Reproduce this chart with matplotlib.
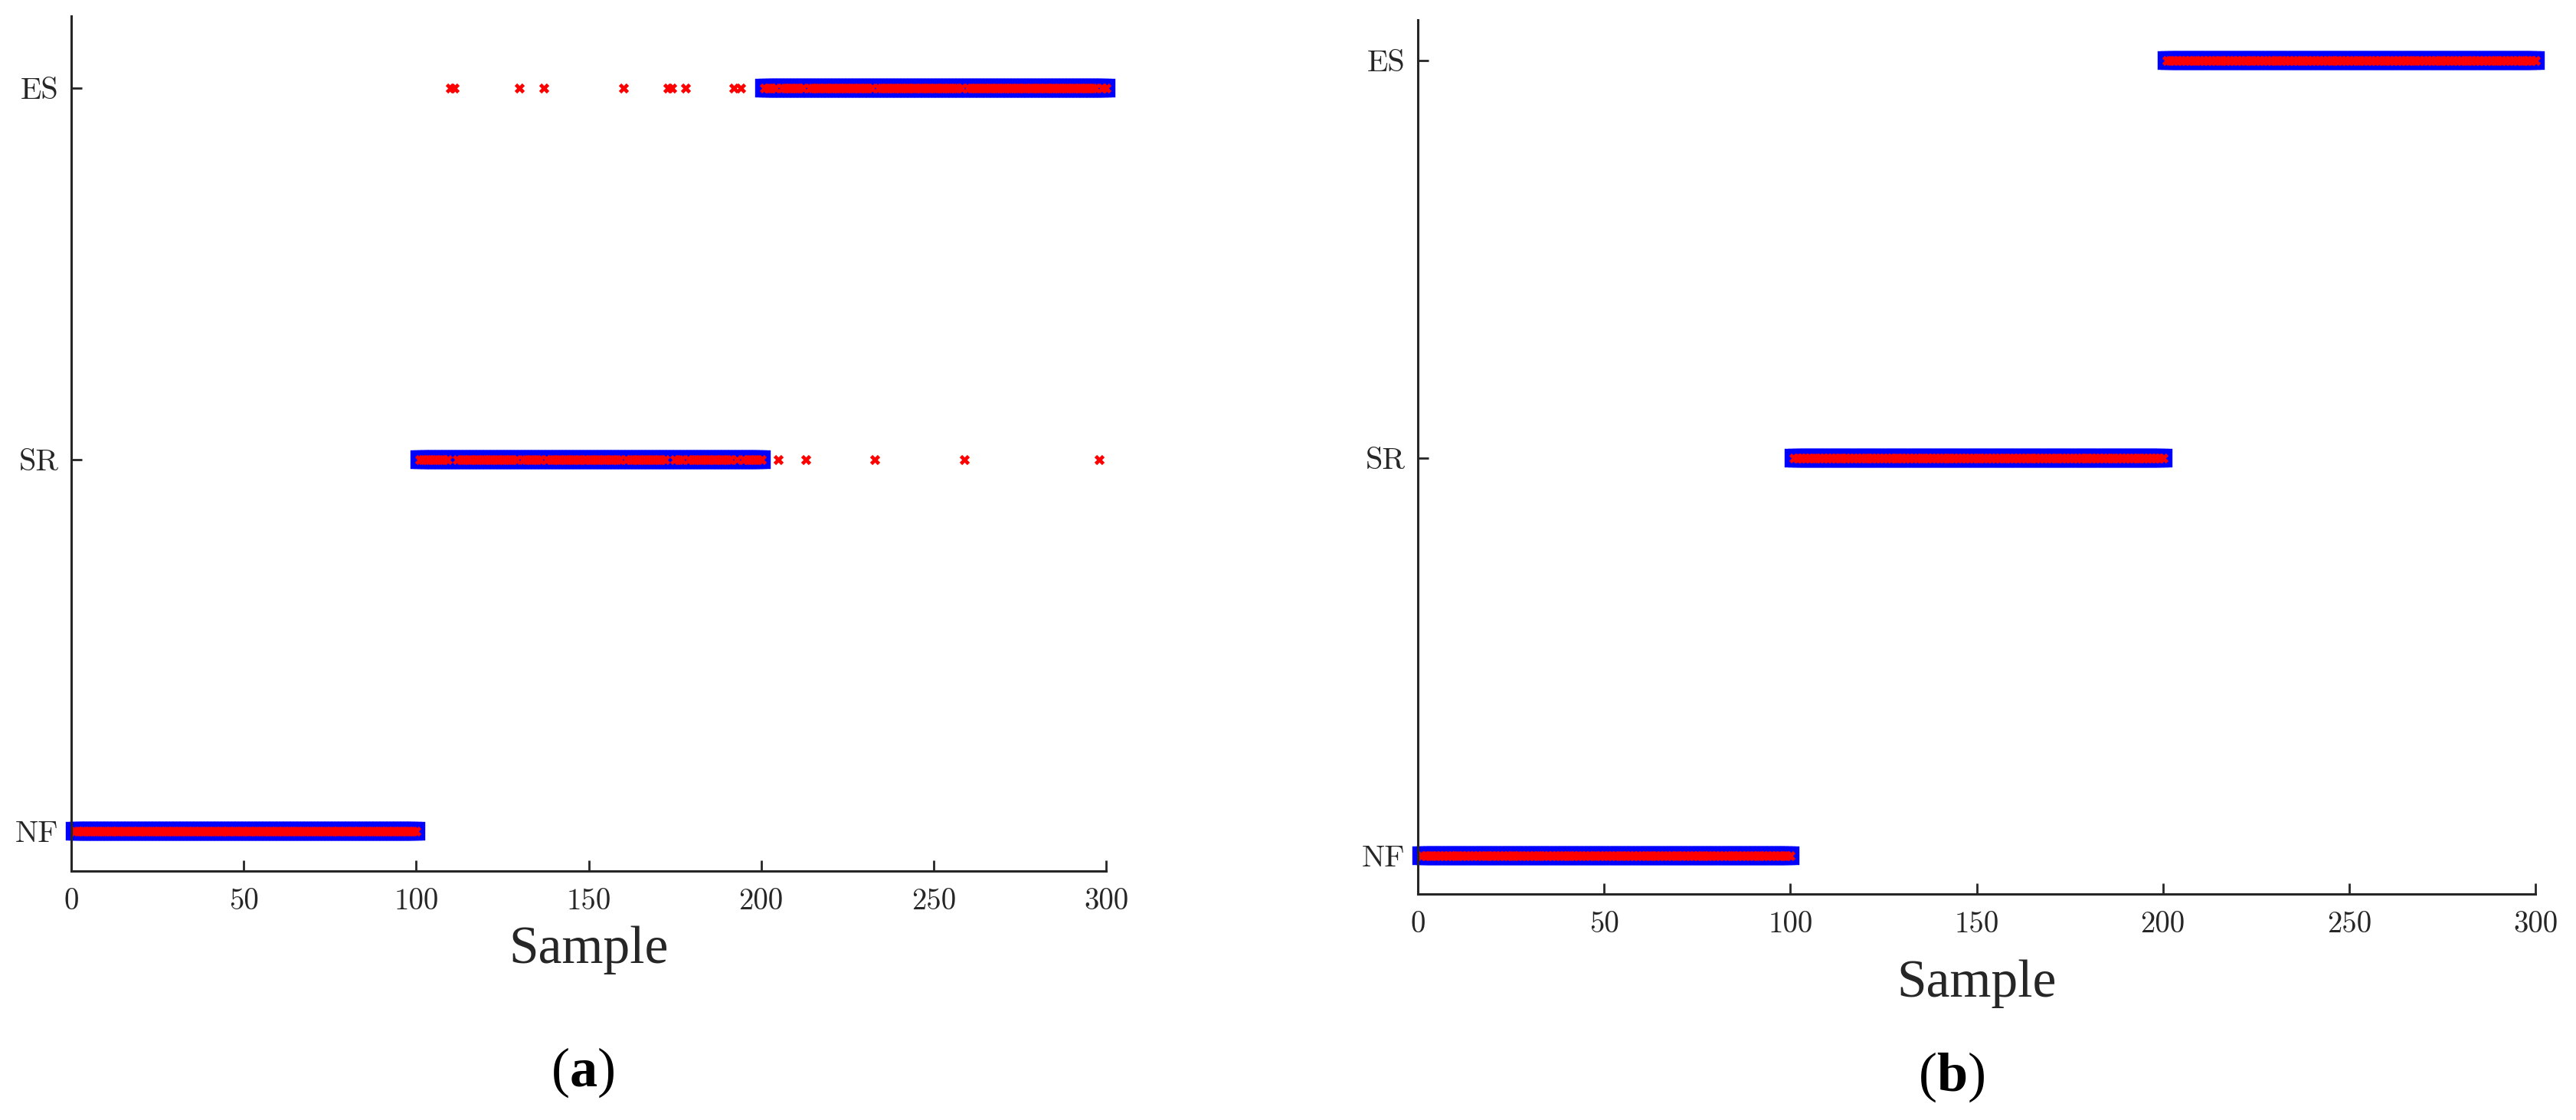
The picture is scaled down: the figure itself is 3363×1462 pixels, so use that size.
import numpy as np
import matplotlib
matplotlib.use('Agg')
import matplotlib.pyplot as plt

plt.rcParams.update({
    'mathtext.fontset': 'custom',
    'mathtext.rm': 'Liberation Serif',
    'mathtext.bf': 'Liberation Serif:bold',
    'axes.edgecolor': '#262626',
    'xtick.color': '#262626',
    'ytick.color': '#262626',
})

# ===================== DATA =====================
class_names = ['NF', 'SR', 'ES']
class_codes = [1, 2, 3]
samples_per_class = [100, 100, 100]

# panel (a): samples whose predicted class differs from the true one
a_sr_pred_es = [110, 111, 130, 137, 160, 173, 174, 178, 192, 194]
a_es_pred_sr = [205, 213, 233, 259, 298]

sample = np.arange(1, sum(samples_per_class) + 1)
true_label = np.repeat(class_codes, samples_per_class)

pred_a = true_label.copy()
pred_a[np.array(a_sr_pred_es) - 1] = 3
pred_a[np.array(a_es_pred_sr) - 1] = 2
pred_b = true_label.copy()

BLUE = '#0000FF'
RED = '#FF0000'
TXT = '#262626'


def draw(ax, pred, ylim, labelpad):
    ax.plot(sample, true_label, 's', ms=6.8, mfc='none', mec=BLUE, mew=2.3, clip_on=False)
    ax.plot(sample, pred, 'x', ms=3.6, mec=RED, mew=1.7, clip_on=False)
    ax.set_xlim(0, 300)
    ax.set_ylim(*ylim)
    ax.set_xticks(np.arange(0, 301, 50))
    ax.set_yticks(class_codes)
    ax.set_yticklabels(class_names)
    for s in ['top', 'right']:
        ax.spines[s].set_visible(False)
    for s in ['left', 'bottom']:
        ax.spines[s].set_linewidth(1.1)
    ax.tick_params(direction='in', length=5, width=1.0)
    ax.tick_params(axis='x', pad=8, labelsize=14)
    ax.tick_params(axis='y', pad=6, labelsize=14.5)
    for lab in ax.get_xticklabels() + ax.get_yticklabels():
        lab.set_family('cmr10')
    ax.set_xlabel('Sample', family='Liberation Serif', fontsize=25, color=TXT, labelpad=labelpad)


W, H = 3363, 1462
fig = plt.figure(figsize=(W / 200, H / 200), dpi=200)

ax1 = fig.add_axes([93 / W, 325 / H, (1444 - 93) / W, (1137 - 21) / H])
draw(ax1, pred_a, (0.893, 3.194), 5)

ax2 = fig.add_axes([1851 / W, 295 / H, (3310 - 1851) / W, (1167 - 26) / H])
draw(ax2, pred_b, (0.904, 3.102), 10)

fig.text(761 / W, 62 / H, r'($\mathbf{a}$)', family='Liberation Serif', fontsize=26,
         ha='center', va='center', color='black')
fig.text(2548 / W, 56 / H, r'($\mathbf{b}$)', family='Liberation Serif', fontsize=26,
         ha='center', va='center', color='black')

fig.savefig('out.png', dpi=200)
